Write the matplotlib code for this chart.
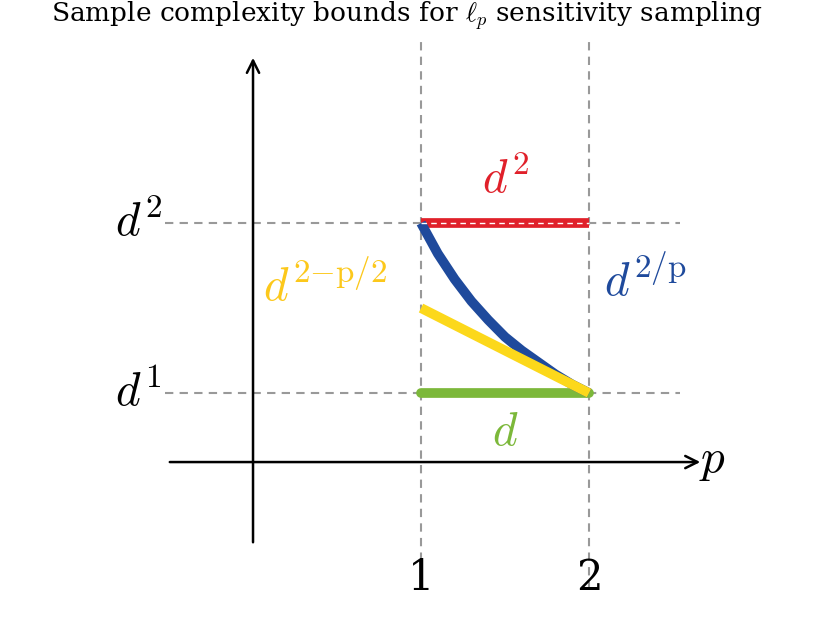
import matplotlib
matplotlib.use("Agg")
import matplotlib.pyplot as plt

plt.rcParams['mathtext.fontset'] = 'cm'

p_vals = [1.0, 1.1, 1.2, 1.3, 1.4, 1.5, 1.6, 1.7, 1.8, 1.9, 2.0]
blue_exp = [2.0, 1.82, 1.67, 1.54, 1.43, 1.33, 1.25, 1.18, 1.11, 1.05, 1.0]
yellow_p = [1.0, 2.0]
yellow_exp = [1.5, 1.0]
red_p = [1.0, 2.0]
red_exp = [2.0, 2.0]
green_p = [1.0, 2.0]
green_exp = [1.0, 1.0]
xticks = [1, 2]
xticklabels = ['1', '2']

fig = plt.figure(figsize=(8.14, 6.28), dpi=100)
ax = fig.add_axes([0, 0, 1, 1])
ax.set_xlim(-1.506, 3.339)
ax.set_ylim(-0.382, 3.312)
ax.axis('off')

def px(x): return (x - 253) / 168
def py(y): return (563 - y) / 170

gray = '#999999'
for x in xticks:
    ax.plot([x, x], [py(590), py(40)], ls=(0, (4, 3)), color=gray, lw=1.5, zorder=1)
for e in [1, 2]:
    ax.plot([px(165), px(680)], [e, e], ls=(0, (4, 3)), color=gray, lw=1.5, zorder=1)

ax.annotate('', xy=(px(703), py(462)), xytext=(px(167), py(462)),
            arrowprops=dict(arrowstyle='->', lw=1.8, color='black', mutation_scale=22))
ax.annotate('', xy=(px(253), py(55)), xytext=(px(253), py(545)),
            arrowprops=dict(arrowstyle='->', lw=1.8, color='black', mutation_scale=22))

ax.plot(red_p, red_exp, color='#e0202a', lw=7, solid_capstyle='butt', zorder=3)
ax.plot(green_p, green_exp, color='#7cb83a', lw=7, solid_capstyle='round', zorder=3)
ax.plot(p_vals, blue_exp, color='#1f4a9c', lw=7, solid_capstyle='butt', zorder=3)
ax.plot(yellow_p, yellow_exp, color='#fcd81b', lw=7, solid_capstyle='butt', zorder=4)
ax.plot([1, 2], [2, 2], ls=(0, (4, 3)), color='white', lw=1, zorder=5)

fs = 34
ax.text(px(138), 2, r'$d^2$', fontsize=fs, ha='center', va='center')
ax.text(px(138), 1, r'$d^1$', fontsize=fs, ha='center', va='center')
ax.text(px(505), py(180), r'$d^2$', fontsize=fs, color='#e0202a', ha='center', va='center')
ax.text(px(505), py(432), r'$d$', fontsize=fs, color='#7cb83a', ha='center', va='center')
ax.text(px(325), py(285), r'$d^{2\mathrm{-p/2}}$', fontsize=fs, color='#fcc81b', ha='center', va='center')
ax.text(px(645), py(280), r'$d^{2/\mathrm{p}}$', fontsize=fs, color='#1f4a9c', ha='center', va='center')
ax.text(px(712), py(460), r'$p$', fontsize=fs, ha='center', va='center')
for x, lab in zip(xticks, xticklabels):
    ax.text(x, py(578), lab, fontsize=30, ha='center', va='center', family='DejaVu Serif')

ax.text(0.5, 0.975, r'Sample complexity bounds for $\ell_p$ sensitivity sampling',
        transform=ax.transAxes, fontsize=19, ha='center', va='center', family='serif')

fig.savefig('out.png', dpi=100)
